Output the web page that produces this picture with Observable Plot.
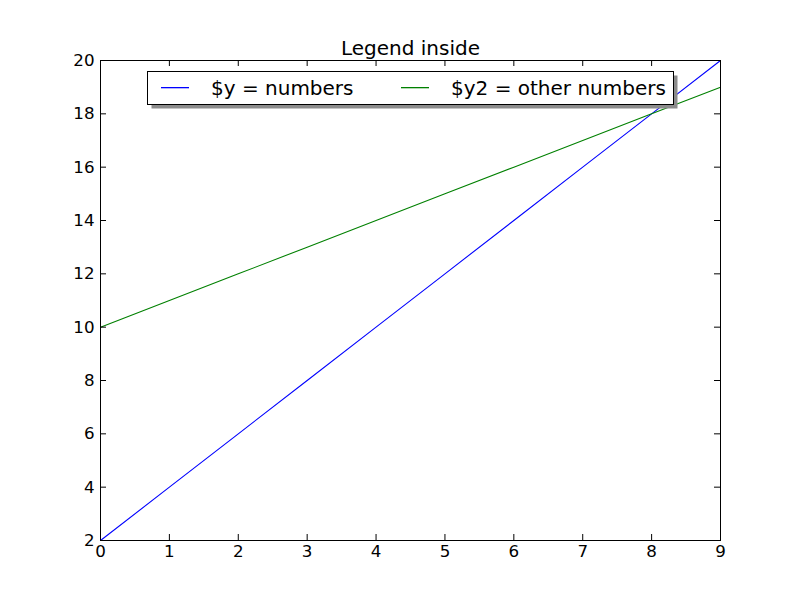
<!DOCTYPE html>
<html>
<head>
<meta charset="utf-8">
<script src="https://cdn.jsdelivr.net/npm/d3@7"></script>
<script src="https://cdn.jsdelivr.net/npm/@observablehq/plot@0.6"></script>
<style>
body{margin:0;background:#fff;}
svg{font-family:"DejaVu Sans",sans-serif;}
</style>
</head>
<body>
<div id="chart"></div>
<script>
const xs = [0,1,2,3,4,5,6,7,8,9];
const ySeries = [2,4,6,8,10,12,14,16,18,20];
const y2Series = [10,11,12,13,14,15,16,17,18,19];
const seriesNames = ["$y = numbers", "$y2 = other numbers"];
const seriesColors = ["#0000ff", "#008000"];
const xTicks = [0,1,2,3,4,5,6,7,8,9];
const yTicks = [2,4,6,8,10,12,14,16,18,20];
const titleText = "Legend inside";

const rows = [];
xs.forEach((x,i)=>{
  rows.push({x, v: ySeries[i], s: seriesNames[0]});
  rows.push({x, v: y2Series[i], s: seriesNames[1]});
});

const W=800,H=600,mL=100,mR=80,mT=60,mB=60;
const innerH = H-mT-mB, innerW = W-mL-mR;
const tl = 6;

const plot = Plot.plot({
  width: W, height: H,
  marginLeft: mL, marginRight: mR, marginTop: mT, marginBottom: mB,
  style: {fontFamily: '"DejaVu Sans", sans-serif', fontSize: "16.7px", color: "#000", background: "#fff"},
  x: {domain: [0,9], ticks: xTicks, tickSize: 0, tickPadding: 5, label: null},
  y: {domain: [2,20], ticks: yTicks, tickSize: 0, tickPadding: 6, label: null},
  color: {domain: seriesNames, range: seriesColors},
  marks: [
    Plot.line(rows, {x: "x", y: "v", z: "s", stroke: "s", strokeWidth: 1.1}),
    Plot.tickX(xTicks, {x: d=>d, insetBottom: innerH - tl, stroke: "#000"}),
    Plot.tickX(xTicks, {x: d=>d, insetTop: innerH - tl, stroke: "#000"}),
    Plot.tickY(yTicks, {y: d=>d, insetRight: innerW - tl, stroke: "#000"}),
    Plot.tickY(yTicks, {y: d=>d, insetLeft: innerW - tl, stroke: "#000"}),
    Plot.frame({stroke: "#000", strokeWidth: 1}),
    Plot.text([titleText], {frameAnchor: "top", text: d=>d, dy: -20, fontSize: 20, fill: "#000"})
  ]
});
document.getElementById("chart").appendChild(plot);

// Legend inside the axes
const svg = d3.select(plot);
const lg = svg.append("g").attr("text-anchor","start");
const bx=147.5, by=71.5, bw=526, bh=33;
lg.append("rect").attr("x",bx+4).attr("y",by+4).attr("width",bw).attr("height",bh).attr("fill","#8c8c8c");
lg.append("rect").attr("x",bx).attr("y",by).attr("width",bw).attr("height",bh).attr("fill","#fff").attr("stroke","#000").attr("stroke-width",1);
const itemX = [161, 401];
seriesNames.forEach((n,i)=>{
  const x0 = itemX[i];
  lg.append("rect").attr("x",x0).attr("y",87).attr("width",28).attr("height",1.3)
    .attr("fill",seriesColors[i]).attr("stroke","none");
  lg.append("text").attr("x",x0+50).attr("y",88).attr("dy","0.35em").attr("font-size",20).attr("fill","#000").attr("text-anchor","start").text(n);
});
</script>
</body>
</html>
